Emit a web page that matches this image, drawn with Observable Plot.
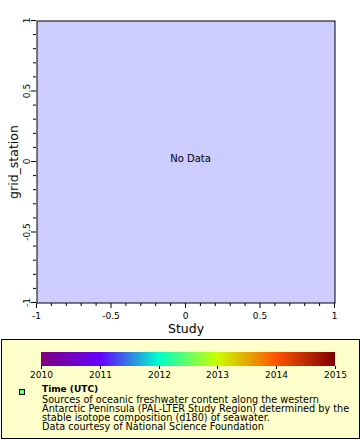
<!DOCTYPE html>
<html><head><meta charset="utf-8">
<script src="https://cdn.jsdelivr.net/npm/d3@7"></script>
<script src="https://cdn.jsdelivr.net/npm/@observablehq/plot@0.6"></script>
<style>
html,body{margin:0;padding:0;background:#fff;}
body{position:relative;width:360px;height:440px;overflow:hidden;font-family:"DejaVu Sans",sans-serif;}
#chart{position:absolute;left:0;top:0;width:360px;}
#legendbox{position:absolute;left:1px;top:339px;width:357px;height:98px;border:1px solid #000;background:#ffffcc;}
#ramp{position:absolute;left:0;top:339px;width:360px;}
.lg{position:absolute;left:42px;white-space:pre;color:#000;font-family:"DejaVu Sans",sans-serif;}
#ltitle{top:384.7px;font-size:9px;line-height:9px;font-weight:bold;}
#lbody{top:394.5px;font-size:9.7px;line-height:9px;}
#swatch{position:absolute;left:19px;top:389px;width:4px;height:4px;border:1px solid #000;background:#66ff66;}
</style></head>
<body>
<div id="chart"></div>
<div id="legendbox"></div>
<div id="ramp"></div>
<div id="swatch"></div>
<div id="ltitle" class="lg"></div>
<div id="lbody" class="lg"></div>
<script>
const xDomain = [-1, 1];
const yDomain = [-1, 1];
const xMajorTicks = [-1, -0.5, 0, 0.5, 1];
const yMajorTicks = [-1, -0.5, 0, 0.5, 1];
const minorTicks = [-0.9, -0.8, -0.7, -0.6, -0.4, -0.3, -0.2, -0.1, 0.1, 0.2, 0.3, 0.4, 0.6, 0.7, 0.8, 0.9];
const xLabel = "Study";
const yLabel = "grid_station";
const noDataText = "No Data";
const colorYears = [2010, 2011, 2012, 2013, 2014, 2015];
const colorStops = ["#800080", "#6600ff", "#00ffcc", "#ccff00", "#ff5500", "#800000"];
const legendTitle = "Time (UTC)";
const legendLines = [
  "Sources of oceanic freshwater content along the western",
  "Antarctic Peninsula (PAL-LTER Study Region) determined by the",
  "stable isotope composition (d180) of seawater.",
  "Data courtesy of National Science Foundation"
];

const chart = Plot.plot({
  width: 360, height: 336,
  marginLeft: 36, marginRight: 25, marginTop: 20, marginBottom: 33,
  style: {fontFamily: "DejaVu Sans", fontSize: "9px", background: "white", color: "black", overflow: "visible"},
  x: {domain: xDomain, insetRight: 1},
  y: {domain: yDomain, insetBottom: 1},
  marks: [
    Plot.frame({fill: "#ccccff", stroke: "black", inset: 0.5}),
    Plot.axisX({ticks: minorTicks, tickSize: 3, tickFormat: () => "", label: null}),
    Plot.axisX({ticks: xMajorTicks, tickSize: 5, tickPadding: 4, tickFormat: d => String(d), label: null}),
    Plot.axisY({ticks: minorTicks, tickSize: 3, tickFormat: () => "", label: null}),
    Plot.axisY({ticks: yMajorTicks, tickSize: 5, tickFormat: () => "", label: null}),
    Plot.text(yMajorTicks, {y: d => d, text: d => String(d), frameAnchor: "left", rotate: -90, textAnchor: "middle", lineAnchor: "bottom", dx: -7}),
    Plot.text([xLabel], {text: d => d, frameAnchor: "bottom", lineAnchor: "bottom", dy: 29, fontSize: 12.5}),
    Plot.text([yLabel], {text: d => d, frameAnchor: "left", rotate: -90, textAnchor: "middle", lineAnchor: "bottom", dx: -19, fontSize: 12.5}),
    Plot.text([noDataText], {text: d => d, frameAnchor: "middle", dx: 4.5, dy: -3.5, fontSize: 10})
  ]
});
document.getElementById("chart").appendChild(chart);

const ramp = Plot.legend({
  color: {type: "linear", domain: colorYears, range: colorStops, interpolate: "rgb"},
  width: 360, height: 45,
  marginLeft: 41, marginRight: 25, marginTop: 13, marginBottom: 18,
  tickSize: 3, ticks: colorYears, tickFormat: d => String(d),
  style: {fontFamily: "DejaVu Sans", fontSize: "9px", background: "none", color: "black", overflow: "visible"}
});
ramp.querySelectorAll(".tick line").forEach(l => l.setAttribute("y1", 0));
document.getElementById("ramp").appendChild(ramp);

document.getElementById("ltitle").textContent = legendTitle;
document.getElementById("lbody").textContent = legendLines.join("\n");
</script>
</body></html>
